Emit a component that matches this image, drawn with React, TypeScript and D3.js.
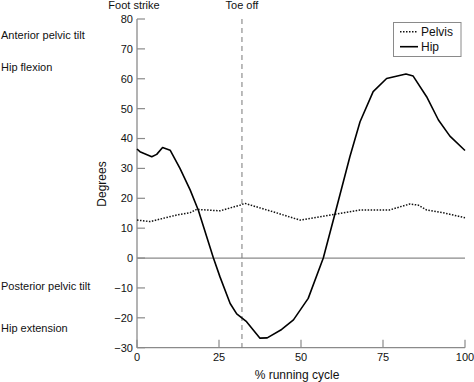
import React from "react";
import * as d3 from "d3";

const hipPct = [0, 0.9, 4.5, 6, 7.8, 10.1, 13.1, 16.2, 18.7, 23.3, 25.3, 28.4, 30.4, 33.4, 37.5, 39.7, 44.1, 47.7, 52.2, 56.8, 60.4, 64.9, 68, 72, 76.1, 82, 84.2, 88.3, 91.9, 95.4, 100];
const hipDeg = [36.5, 35.6, 33.9, 34.7, 37, 36.1, 30, 22.8, 16, 0, -6.3, -15.2, -18.7, -21.3, -26.8, -26.7, -23.9, -20.7, -13.5, 0, 15, 33.9, 45.6, 55.7, 60.1, 61.6, 60.9, 54, 46.2, 40.8, 36];
const pelvisPct = [0, 4, 8, 12.1, 16.2, 18.2, 25.3, 31.4, 32.9, 42, 49.7, 55.8, 60.4, 68, 77, 83.2, 85.8, 88.3, 94, 100];
const pelvisDeg = [12.7, 12.2, 13.3, 14.4, 15.2, 16.3, 15.8, 17.7, 18.3, 15.3, 12.7, 13.8, 14.7, 16.1, 16.1, 18.1, 17.7, 16.1, 15, 13.5];
const xTicks = [0, 25, 50, 75, 100];
const yTicks = [-30, -20, -10, 0, 10, 20, 30, 40, 50, 60, 70, 80];
const toeOff = 32;
const sideLabels = [
  { text: "Anterior pelvic tilt", value: 74.5 },
  { text: "Hip flexion", value: 64 },
  { text: "Posterior pelvic tilt", value: -9.5 },
  { text: "Hip extension", value: -23.5 },
];

export default function App() {
  const W = 474, H = 382;
  const x = d3.scaleLinear().domain([0, 100]).range([137, 465]);
  const y = d3.scaleLinear().domain([-30, 80]).range([347.7, 19]);
  const line = d3.line<number>().x((d) => d[0]).y((d) => d[1]).curve(d3.curveLinear);
  const hipPath = line(hipPct.map((p, i) => [x(p), y(hipDeg[i])]) as any) as string;
  const pelvisPath = line(pelvisPct.map((p, i) => [x(p), y(pelvisDeg[i])]) as any) as string;
  const axisColor = "#8a8a8a";
  const font = "Liberation Sans, Arial, Helvetica, sans-serif";
  return (
    <svg width={W} height={H} style={{ position: "absolute", left: 0, top: 0, background: "#fff" }} fontFamily={font}>
      <line x1={x(0)} x2={x(0)} y1={y(80)} y2={y(-30)} stroke={axisColor} strokeWidth={1.3} />
      <line x1={x(0)} x2={x(100)} y1={y(-30)} y2={y(-30)} stroke={axisColor} strokeWidth={1.3} />
      <line x1={x(0)} x2={x(100)} y1={y(0)} y2={y(0)} stroke={axisColor} strokeWidth={1.3} />
      {yTicks.map((t) => (
        <g key={"y" + t}>
          <line x1={x(0)} x2={x(0) + 8} y1={y(t)} y2={y(t)} stroke={axisColor} strokeWidth={1.2} />
          <text x={x(0) - 4} y={y(t)} dy="0.36em" textAnchor="end" fontSize={11} fill="#111">
            {t < 0 ? "\u2212" + Math.abs(t) : t}
          </text>
        </g>
      ))}
      {xTicks.map((t) => (
        <g key={"x" + t}>
          <line x1={x(t)} x2={x(t)} y1={y(-30)} y2={y(-30) - 8} stroke={axisColor} strokeWidth={1.2} />
          <text x={x(t)} y={361} textAnchor="middle" fontSize={11} fill="#111">{t}</text>
        </g>
      ))}
      <line x1={x(toeOff)} x2={x(toeOff)} y1={y(80)} y2={y(-30)} stroke="#777" strokeWidth={1} strokeDasharray="5,4" />
      <text x={x(0) - 3} y={9} textAnchor="middle" fontSize={11} fill="#111">Foot strike</text>
      <text x={x(toeOff)} y={9} textAnchor="middle" fontSize={11} fill="#111">Toe off</text>
      {sideLabels.map((l) => (
        <text key={l.text} x={1} y={y(l.value)} dy="0.36em" fontSize={11} fill="#111">{l.text}</text>
      ))}
      <text transform={`translate(106,184) rotate(-90)`} textAnchor="middle" fontSize={12} fill="#111">Degrees</text>
      <text x={297} y={379} textAnchor="middle" fontSize={12} fill="#111">% running cycle</text>
      <path d={pelvisPath} fill="none" stroke="#111" strokeWidth={1.5} strokeDasharray="1.5,1.5" />
      <path d={hipPath} fill="none" stroke="#000" strokeWidth={1.6} strokeLinejoin="round" />
      <rect x={393.5} y={22.5} width={67.5} height={34} fill="#fff" stroke={axisColor} strokeWidth={1} />
      <line x1={400} x2={418} y1={31.7} y2={31.7} stroke="#111" strokeWidth={1.5} strokeDasharray="1.5,1.5" />
      <text x={421} y={31.7} dy="0.36em" fontSize={12} fill="#111">Pelvis</text>
      <line x1={400} x2={418} y1={46.7} y2={46.7} stroke="#000" strokeWidth={1.6} />
      <text x={421} y={46.7} dy="0.36em" fontSize={12} fill="#111">Hip</text>
    </svg>
  );
}
